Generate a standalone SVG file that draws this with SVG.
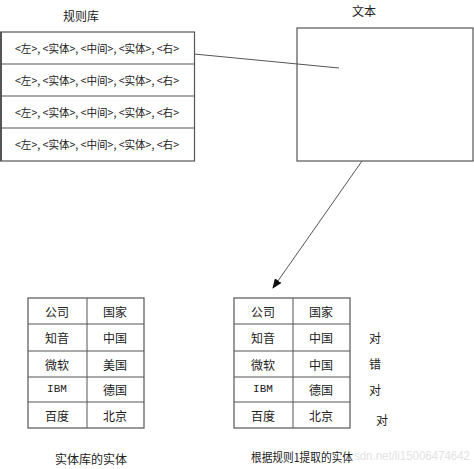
<svg xmlns="http://www.w3.org/2000/svg" width="474" height="469" viewBox="0 0 474 469">
<style>
.box{fill:#fff;stroke:#555;stroke-width:1.2}
.ln{stroke:#555;stroke-width:1;fill:none}
text{font-family:"Noto Sans CJK SC","Liberation Sans",sans-serif;font-size:12px;fill:#222;text-anchor:middle;dominant-baseline:central}
.rule{font-size:11.5px}
.ibm{font-family:"Liberation Mono",monospace;font-size:11px}
.wm{fill:#e2e2e2;text-anchor:start;font-family:"Liberation Sans",sans-serif}
</style>
<defs>
<marker id="arr" markerWidth="10" markerHeight="8" refX="9" refY="4" orient="auto" markerUnits="userSpaceOnUse">
<path d="M0,0 L10,4 L0,8 z" fill="#111"/>
</marker>
</defs>
<rect width="474" height="469" fill="#fff"/>
<g id="rules">
<text x="81" y="15">规则库</text>
<rect class="box" x="0.5" y="32" width="194" height="129"/>
<line class="ln" x1="0" y1="64" x2="194" y2="64"/>
<line class="ln" x1="0" y1="96" x2="194" y2="96"/>
<line class="ln" x1="0" y1="128" x2="194" y2="128"/>
<line x1="1" y1="32" x2="1" y2="161" stroke="#555" stroke-width="2"/>
<text class="rule" x="97" y="48" textLength="164" lengthAdjust="spacingAndGlyphs">&lt;左&gt;, &lt;实体&gt;, &lt;中间&gt;, &lt;实体&gt;, &lt;右&gt;</text>
<text class="rule" x="97" y="80" textLength="164" lengthAdjust="spacingAndGlyphs">&lt;左&gt;, &lt;实体&gt;, &lt;中间&gt;, &lt;实体&gt;, &lt;右&gt;</text>
<text class="rule" x="97" y="112" textLength="164" lengthAdjust="spacingAndGlyphs">&lt;左&gt;, &lt;实体&gt;, &lt;中间&gt;, &lt;实体&gt;, &lt;右&gt;</text>
<text class="rule" x="97" y="144" textLength="164" lengthAdjust="spacingAndGlyphs">&lt;左&gt;, &lt;实体&gt;, &lt;中间&gt;, &lt;实体&gt;, &lt;右&gt;</text>
</g>
<g id="textbox">
<text x="364" y="10">文本</text>
<rect class="box" x="297" y="28" width="176" height="133"/>
</g>
<g id="connectors">
<line class="ln" x1="194" y1="54" x2="339" y2="68"/>
<line class="ln" x1="362" y1="161" x2="273" y2="288" marker-end="url(#arr)"/>
</g>
<g id="entity-lib">
<rect class="box" x="28" y="298" width="116" height="130"/>
<line class="ln" x1="87" y1="298" x2="87" y2="428"/>
<line class="ln" x1="28" y1="324" x2="144" y2="324"/>
<line class="ln" x1="28" y1="351" x2="144" y2="351"/>
<line class="ln" x1="28" y1="377" x2="144" y2="377"/>
<line class="ln" x1="28" y1="402" x2="144" y2="402"/>
<text x="57" y="311">公司</text><text x="115" y="311">国家</text>
<text x="57" y="337">知音</text><text x="115" y="337">中国</text>
<text x="57" y="364">微软</text><text x="115" y="364">美国</text>
<text class="ibm" x="57" y="389">IBM</text><text x="115" y="389">德国</text>
<text x="57" y="415">百度</text><text x="115" y="415">北京</text>
<text x="91" y="458">实体库的实体</text>
</g>
<g id="extracted">
<rect class="box" x="234" y="298" width="116" height="130"/>
<line class="ln" x1="293" y1="298" x2="293" y2="428"/>
<line class="ln" x1="234" y1="324" x2="350" y2="324"/>
<line class="ln" x1="234" y1="351" x2="350" y2="351"/>
<line class="ln" x1="234" y1="377" x2="350" y2="377"/>
<line class="ln" x1="234" y1="402" x2="350" y2="402"/>
<text x="263" y="311">公司</text><text x="321" y="311">国家</text>
<text x="263" y="337">知音</text><text x="321" y="337">中国</text>
<text x="263" y="364">微软</text><text x="321" y="364">中国</text>
<text class="ibm" x="263" y="389">IBM</text><text x="321" y="389">德国</text>
<text x="263" y="415">百度</text><text x="321" y="415">北京</text>
<text x="375" y="337">对</text>
<text x="375" y="363">错</text>
<text x="375" y="389">对</text>
<text x="382" y="419">对</text>
<text class="wm" x="354" y="456" textLength="116" lengthAdjust="spacingAndGlyphs">sdn.net/li15006474642</text>
<text x="302" y="456" textLength="102" lengthAdjust="spacingAndGlyphs">根据规则1提取的实体</text>
</g>
</svg>
